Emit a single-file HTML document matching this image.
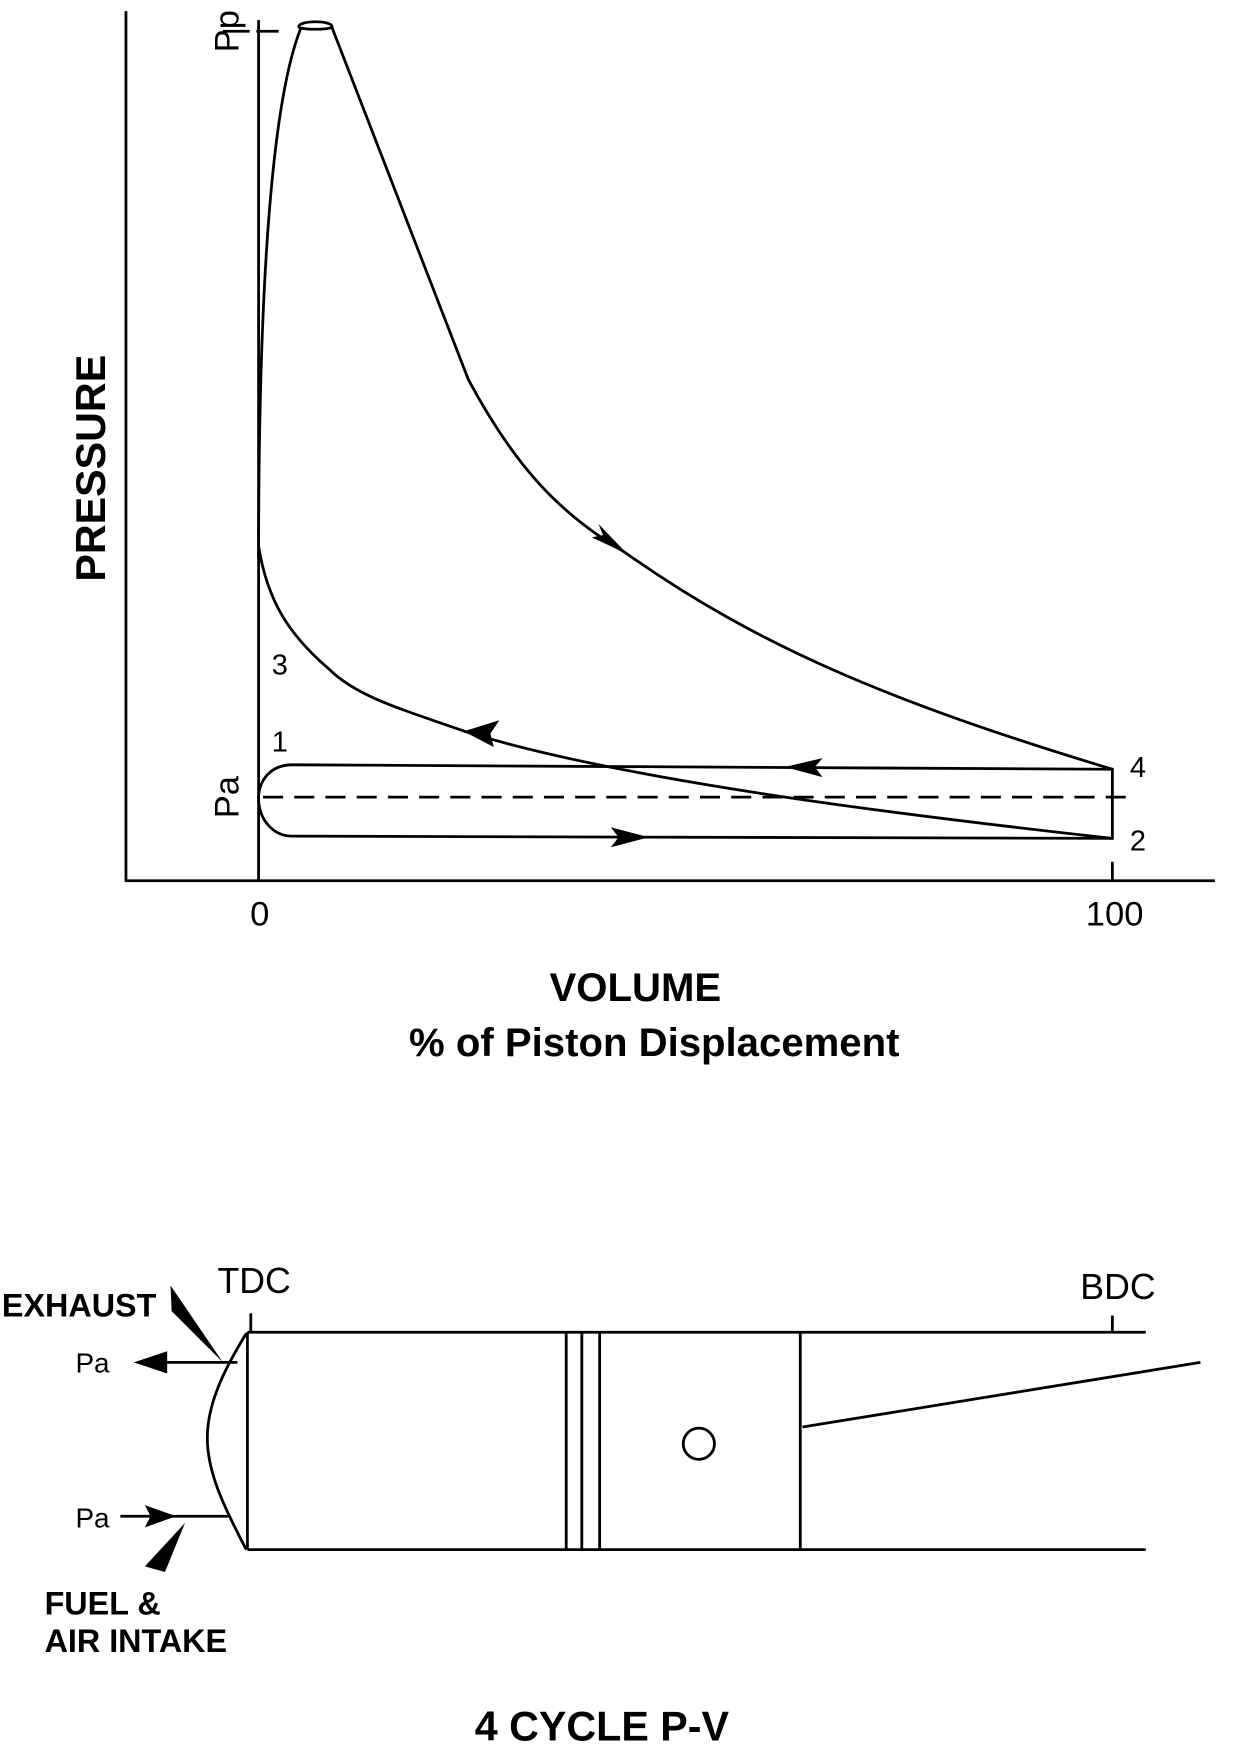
<!DOCTYPE html>
<html><head><meta charset="utf-8"><style>
html,body{margin:0;padding:0;background:#fff;}
svg{display:block;font-family:"Liberation Sans",Arial,sans-serif;}
</style></head><body>
<svg width="1245" height="1747" viewBox="0 0 1117 1567" preserveAspectRatio="none">
<g fill="none" stroke="#000" stroke-width="2.5">
  <line x1="113" y1="10" x2="113" y2="790"/>
  <line x1="112" y1="790" x2="1090" y2="790"/>
  <line x1="232" y1="18" x2="232" y2="790"/>
  <line x1="200" y1="28" x2="250" y2="28" stroke-dasharray="24,6"/>
  <line x1="998" y1="773" x2="998" y2="790"/>
  <line x1="236" y1="715" x2="1020" y2="715" stroke-dasharray="18,10"/>
  <path d="M232,500 C232,300 240,100 270,25"/>
  <path d="M268,24 C268,18 298,18 298,24 C298,27 268,27 268,24 Z"/>
  <path d="M298,25 L420,340 C460,415 500,460 560,495 C680,580 800,630 998,690"/>
  <path d="M998,752 C800,730 560,700 420,657 C360,636 320,625 295,600 C260,570 240,540 232,490"/>
  <path d="M998,690 L262,686 C243,686 232,700 232,716 C232,735 245,750 262,750 L998,752 Z"/>
</g>
<g fill="#000">
  <polygon points="563,497 531,482 541,480 537,470"/>
  <polygon points="416,656 448,646 440,658 443,670"/>
  <polygon points="704,688 738,680 731,688 738,697"/>
  <polygon points="582,751 548,742 555,751 548,760"/>
</g>
<g font-size="26">
  <text x="251" y="605" text-anchor="middle">3</text>
  <text x="251" y="674" text-anchor="middle">1</text>
  <text x="1021" y="697" text-anchor="middle">4</text>
  <text x="1021" y="763" text-anchor="middle">2</text>
  <text x="233" y="830" text-anchor="middle" font-size="31">0</text>
  <text x="1000" y="830" text-anchor="middle" font-size="31">100</text>
  <text transform="translate(214,28) rotate(-90)" text-anchor="middle" font-size="31">Pp</text>
  <text transform="translate(214,715) rotate(-90)" text-anchor="middle" font-size="31">Pa</text>
  <text transform="translate(94,420) rotate(-90)" text-anchor="middle" font-size="37" font-weight="bold">PRESSURE</text>
  <text x="570" y="898" text-anchor="middle" font-size="36" font-weight="bold">VOLUME</text>
  <text x="587" y="947" text-anchor="middle" font-size="36" font-weight="bold">% of Piston Displacement</text>
</g>
<g fill="none" stroke="#000" stroke-width="2.5">
  <line x1="222" y1="1195" x2="1028" y2="1195"/>
  <line x1="222" y1="1390" x2="1028" y2="1390"/>
  <line x1="222" y1="1195" x2="222" y2="1390"/>
  <line x1="225" y1="1178" x2="225" y2="1195"/>
  <line x1="998" y1="1180" x2="998" y2="1195"/>
  <path d="M221,1196 C200,1230 186,1260 186,1290 C186,1320 200,1350 221,1390"/>
  <line x1="508" y1="1195" x2="508" y2="1390"/>
  <line x1="522" y1="1195" x2="522" y2="1390"/>
  <line x1="538" y1="1195" x2="538" y2="1390"/>
  <line x1="718" y1="1195" x2="718" y2="1390"/>
  <circle cx="627" cy="1295" r="14"/>
  <line x1="720" y1="1280" x2="1077" y2="1222"/>
  <line x1="130" y1="1222" x2="213" y2="1222"/>
  <line x1="108" y1="1360" x2="205" y2="1360"/>
</g>
<g fill="#000">
  <polygon points="120,1222 150,1212 150,1232"/>
  <polygon points="158,1360 130,1350 135,1360 130,1370"/>
  <polygon points="153,1153 154,1176 200,1222"/>
  <polygon points="166,1366 130,1405 148,1410"/>
</g>
<g>
  <text x="228" y="1160" text-anchor="middle" font-size="32">TDC</text>
  <text x="1003" y="1165" text-anchor="middle" font-size="32">BDC</text>
  <text x="71" y="1181" text-anchor="middle" font-size="29" font-weight="bold">EXHAUST</text>
  <text x="83" y="1231" text-anchor="middle" font-size="25">Pa</text>
  <text x="83" y="1370" text-anchor="middle" font-size="25">Pa</text>
  <text x="40" y="1448" font-size="29" font-weight="bold">FUEL &amp;</text>
  <text x="40" y="1482" font-size="29" font-weight="bold">AIR INTAKE</text>
  <text x="540" y="1561" text-anchor="middle" font-size="37" font-weight="bold">4 CYCLE P-V</text>
</g>
</svg>
</body></html>
